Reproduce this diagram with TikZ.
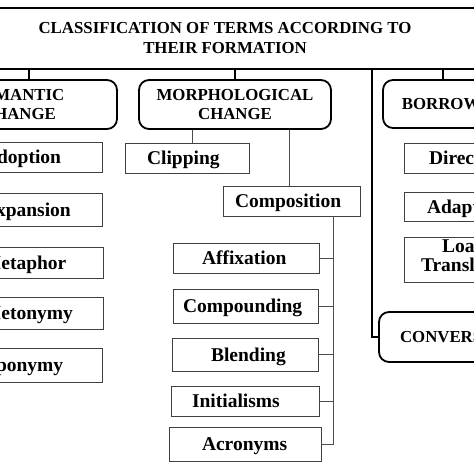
\documentclass[tikz,border=0pt]{standalone}
\usepackage{fontspec}
\setmainfont{Liberation Serif}
\newcommand\lefttext[3]{\makebox[#1][l]{\hspace*{#2}#3}}
\begin{document}
\begin{tikzpicture}[x=1pt,y=-1pt,
  hdr/.style={draw=black,line width=1.8pt,rounded corners=10pt,align=center,inner sep=0pt,font=\fontsize{16.8}{18.5}\selectfont\bfseries},
  cbox/.style={draw=black!75,line width=0.9pt,inner xsep=0pt,inner ysep=0pt,text height=13pt,text depth=0pt,font=\fontsize{19.5}{19}\selectfont\bfseries},
  ttl/.style={draw=black,line width=2pt,align=center,inner sep=0pt,font=\fontsize{16.8}{20}\selectfont\bfseries},
  conn/.style={draw=black!70,line width=0.9pt},
  bar/.style={draw=black,line width=1.8pt}]
\useasboundingbox (0,0) rectangle (474,474);
\clip (0,0) rectangle (474,474);
% title
\node[ttl,minimum width=518,minimum height=61] (title) at (225,38.5) {CLASSIFICATION OF TERMS ACCORDING TO\\THEIR FORMATION};
% headers
\node[hdr,minimum width=196,minimum height=49] (sem) at (19,104.5) {SEMANTIC\\CHANGE};
\node[hdr,minimum width=192,minimum height=49] (morph) at (235,104.5) {MORPHOLOGICAL\\CHANGE};
\node[hdr,minimum width=148,minimum height=48] (borrow) at (457,104) {BORROWING};
\node[hdr,minimum width=156,minimum height=50] (conv) at (457,337) {CONVERSION};
% semantic children
\node[cbox,minimum height=30] (adop) at (21,157) {\lefttext{162pt}{43pt}{Adoption}};
\node[cbox,minimum height=33] (expa) at (21,209.5) {\lefttext{162pt}{43pt}{Expansion}};
\node[cbox,minimum height=31] (meta) at (21.5,262.5) {\lefttext{163pt}{43pt}{Metaphor}};
\node[cbox,minimum height=32] (meto) at (21.5,313) {\lefttext{163pt}{43pt}{Metonymy}};
\node[cbox,minimum height=34] (epon) at (21,365) {\lefttext{162pt}{43pt}{Eponymy}};
% morphological children
\node[cbox,minimum height=30] (clip) at (187,158) {\lefttext{124pt}{22pt}{Clipping}};
\node[cbox,minimum height=30] (comp) at (291.5,201) {\lefttext{137pt}{12pt}{Composition}};
\node[cbox,minimum height=30] (aff) at (246,258) {\lefttext{146pt}{29pt}{Affixation}};
\node[cbox,minimum height=34] (cmpd) at (245.5,306) {\lefttext{145pt}{10pt}{Compounding}};
\node[cbox,minimum height=33] (blend) at (245,354.5) {\lefttext{146pt}{39pt}{Blending}};
\node[cbox,minimum height=30] (init) at (245,401) {\lefttext{148pt}{21pt}{Initialisms}};
\node[cbox,minimum height=34] (acr) at (245,444) {\lefttext{152pt}{33pt}{Acronyms}};
% borrowing children
\node[cbox,minimum height=30] (dir) at (477,158) {\lefttext{146pt}{25pt}{Direct}};
\node[cbox,minimum height=29] (adap) at (477,206.5) {\lefttext{146pt}{23pt}{Adaptation}};
\node[cbox,minimum height=45,text height=24pt] (loan) at (477,259.5) {\lefttext{146pt}{17pt}{\begin{tabular}[b]{@{}l@{}}\hspace*{21pt}Loan\\Translation\end{tabular}}};
% connectors
\draw[bar] ([xshift=10pt]sem.north) -- ([xshift=10pt]sem.north |- title.south);
\draw[bar] (morph.north) -- (morph.north |- title.south);
\draw[bar] ([xshift=-14pt]borrow.north) -- ([xshift=-14pt]borrow.north |- title.south);
\draw[bar] (conv.west) -- ++(-6,0) coordinate (cv) -- (cv |- title.south);
\draw[conn] ([xshift=5pt]clip.north) -- ([xshift=5pt]clip.north |- morph.south);
\draw[conn] ([xshift=-2pt]comp.north) -- ([xshift=-2pt]comp.north |- morph.south);
\draw[conn] (acr.east) -- ++(12,0) coordinate (sp) -- (sp |- comp.south);
\foreach \n in {aff,cmpd,blend,init} \draw[conn] (\n.east) -- (\n.east -| sp);
\end{tikzpicture}
\end{document}
